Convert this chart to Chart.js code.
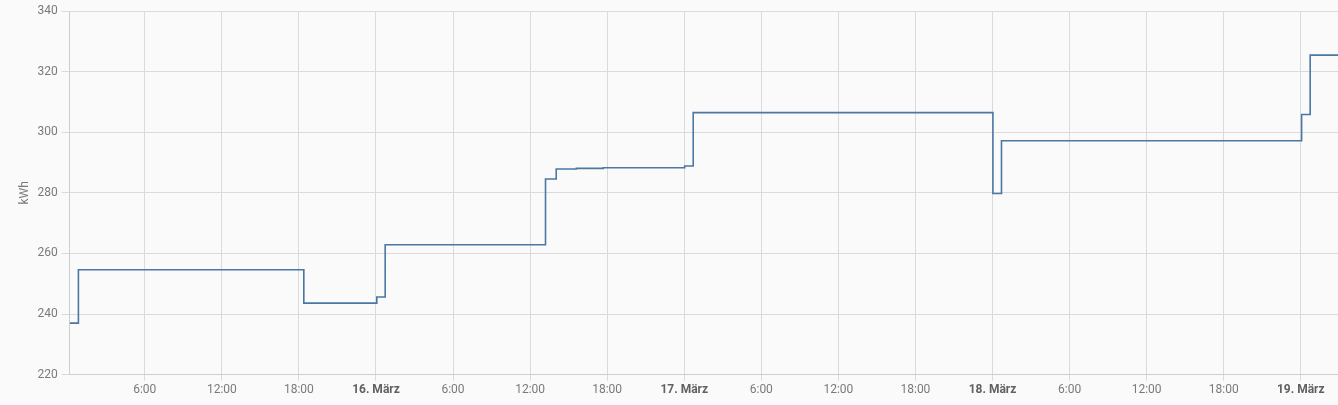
<!DOCTYPE html>
<html>
<head>
<meta charset="utf-8">
<script src="https://cdn.jsdelivr.net/npm/chart.js@4"></script>
<style>
  html, body { margin: 0; padding: 0; background: #fafafa; }
  #wrap { width: 1338px; height: 405px; }
</style>
</head>
<body>
<div id="wrap"><canvas id="energyChart"></canvas></div>
<script>
// change times (day of March, hh:mm) and the meter value from then on
const days = [15, 15, 15, 16, 16, 16, 16, 16, 16, 17, 17, 18, 18, 19, 19, 19];
const clock = ["00:09", "00:50", "18:23", "00:04", "00:43", "13:12", "14:02", "15:36",
               "17:42", "00:02", "00:42", "00:02", "00:42", "00:04", "00:44", "02:54"];
const values = [237.0, 254.6, 243.6, 245.6, 262.9, 284.6, 287.9, 288.1,
                288.3, 288.9, 306.5, 279.8, 297.2, 305.9, 325.5, 325.5];
const yTicks = [220, 240, 260, 280, 300, 320, 340];
const xTickHours = [6, 12, 18, 24, 30, 36, 42, 48, 54, 60, 66, 72, 78, 84, 90, 96];

// hours since 15. März 0:00
function toHours(d, hm) {
  const [h, m] = hm.split(":").map(Number);
  return (d - 15) * 24 + h + m / 60;
}
const points = days.map((d, i) => ({ x: toHours(d, clock[i]), y: values[i] }));

function tickText(v) {
  const h = v % 24;
  if (h === 0) return (15 + v / 24) + ". März";
  return h + ":00";
}

new Chart(document.getElementById("energyChart"), {
  type: "line",
  data: {
    datasets: [{
      label: "Energie",
      data: points,
      stepped: "before",
      borderColor: "#4a77a4",
      borderWidth: 1.6,
      pointRadius: 0,
      fill: false
    }]
  },
  options: {
    responsive: true,
    maintainAspectRatio: false,
    animation: false,
    layout: { padding: { top: 11, right: 0, left: 18, bottom: 6 } },
    plugins: {
      legend: { display: false },
      tooltip: { enabled: false }
    },
    scales: {
      x: {
        type: "linear",
        min: points[0].x,
        max: points[points.length - 1].x,
        afterBuildTicks: (scale) => {
          scale.ticks = xTickHours.map(v => ({ value: v }));
        },
        grid: { color: "#dadada", tickLength: 6 },
        border: { color: "#cfcfcf" },
        ticks: {
          autoSkip: false,
          maxRotation: 0,
          padding: 2,
          color: (ctx) => (ctx.tick && ctx.tick.value % 24 === 0) ? "#616161" : "#7a7a7a",
          font: (ctx) => ({
            family: "Roboto",
            size: 12,
            weight: (ctx.tick && ctx.tick.value % 24 === 0) ? "bold" : "normal"
          }),
          callback: (v) => tickText(v)
        }
      },
      y: {
        min: 220,
        max: 340,
        afterBuildTicks: (scale) => {
          scale.ticks = yTicks.map(v => ({ value: v }));
        },
        title: {
          display: true,
          text: "kWh",
          color: "#7a7a7a",
          font: { family: "Roboto", size: 12 },
          padding: { top: 0, bottom: 1 }
        },
        grid: { color: "#dadada", tickLength: 8 },
        border: { color: "#cfcfcf" },
        ticks: {
          padding: 4,
          color: "#7a7a7a",
          font: { family: "Roboto", size: 12 }
        }
      }
    }
  }
});
</script>
</body>
</html>
